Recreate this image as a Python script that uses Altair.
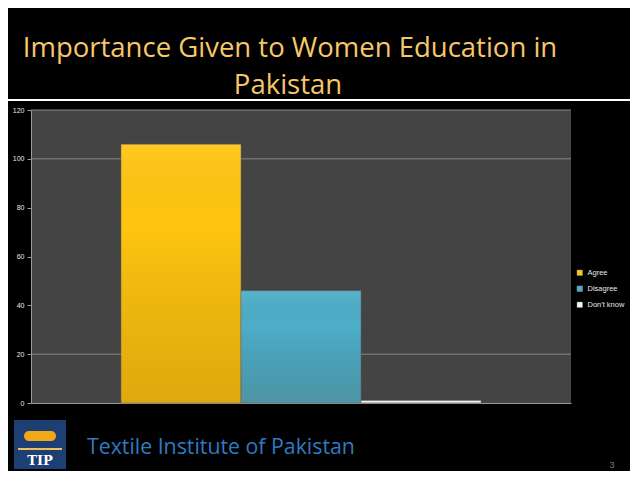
import altair as alt
import pandas as pd

categories = ["Agree", "Disagree", "Don't know"]
values = [106, 46, 1]
colors = ["#FFC510", "#4DADC8", "#F8F8F8"]
y_ticks = [0, 20, 40, 60, 80, 100, 120]
grid_values = [20, 100, 120]
title_lines = ["Importance Given to Women Education in", "Pakistan"]
footer_text = "Textile Institute of Pakistan"
page_number = "3"
logo_text = "TIP"

W, H = 540, 293
OX, OY = 31, 110  # page position of plot origin

df = pd.DataFrame({"cat": categories, "val": values})

y_scale = alt.Scale(domain=[0, 120], nice=False)
y_axis = alt.Axis(values=y_ticks, title=None, grid=False, labelColor="#e8e8e8",
                  labelFontSize=7, labelFont="Liberation Sans", tickColor="#9a9a9a",
                  tickSize=4, domainColor="#9a9a9a", labelPadding=3)
x_enc = alt.X("cat:N", sort=categories,
              scale=alt.Scale(paddingInner=0, paddingOuter=0.75),
              axis=alt.Axis(labels=False, ticks=False, title=None, domainColor="#9a9a9a"))

grid = alt.Chart(pd.DataFrame({"g": grid_values})).mark_rule(color="#8a8a8a", strokeWidth=1).encode(
    y=alt.Y("g:Q", scale=y_scale, axis=y_axis)
)

bars = alt.Chart(df).mark_bar(stroke="#5c5c5c", strokeWidth=0.5).encode(
    x=x_enc,
    y=alt.Y("val:Q", scale=y_scale, axis=y_axis),
    color=alt.Color("cat:N", sort=categories,
                    scale=alt.Scale(domain=categories, range=colors),
                    legend=alt.Legend(title=None, orient="none", legendX=545, legendY=159,
                                      labelColor="#e8e8e8", labelFontSize=7.5,
                                      labelFont="Liberation Sans", symbolType="square",
                                      symbolSize=30, rowPadding=7, symbolStrokeWidth=0.5,
                                      symbolStrokeColor="#888"))
)

shade = alt.Chart(df).mark_bar(
    color=alt.Gradient(gradient="linear", x1=0, y1=0, x2=0, y2=1,
                       stops=[alt.GradientStop(offset=0, color="rgba(255,255,255,0.08)"),
                              alt.GradientStop(offset=0.3, color="rgba(0,0,0,0)"),
                              alt.GradientStop(offset=1, color="rgba(90,40,0,0.18)")])
).encode(x=x_enc, y=alt.Y("val:Q", scale=y_scale, axis=y_axis))

def px(x):
    return x - OX

def py(y):
    return y - OY

title1 = alt.Chart(pd.DataFrame({"t": [title_lines[0]]})).mark_text(
    font="Open Sans", fontSize=27.5, color="#F7C76A", align="center", baseline="alphabetic"
).encode(text="t:N", x=alt.value(px(290)), y=alt.value(py(57)))

title2 = alt.Chart(pd.DataFrame({"t": [title_lines[1]]})).mark_text(
    font="Open Sans", fontSize=27.5, color="#F7C76A", align="center", baseline="alphabetic"
).encode(text="t:N", x=alt.value(px(288)), y=alt.value(py(94)))

header_line = alt.Chart(pd.DataFrame({"a": [0]})).mark_rule(color="#ffffff", strokeWidth=2).encode(
    x=alt.value(px(0)), x2=alt.value(px(640)), y=alt.value(py(100))
)

logo_box = alt.Chart(pd.DataFrame({"a": [0]})).mark_rect(color="#1d3f73").encode(
    x=alt.value(px(14)), x2=alt.value(px(66)), y=alt.value(py(420)), y2=alt.value(py(469))
)
logo_band = alt.Chart(pd.DataFrame({"a": [0]})).mark_rect(color="#e8c060").encode(
    x=alt.value(px(18)), x2=alt.value(px(62)), y=alt.value(py(448)), y2=alt.value(py(450))
)
logo_wing = alt.Chart(pd.DataFrame({"a": [0]})).mark_rect(color="#f0a818", cornerRadius=5).encode(
    x=alt.value(px(24)), x2=alt.value(px(56)), y=alt.value(py(431)), y2=alt.value(py(441))
)
logo_label = alt.Chart(pd.DataFrame({"t": [logo_text]})).mark_text(
    font="DejaVu Serif", fontSize=13, fontWeight="bold", color="#ffffff", align="center",
    baseline="alphabetic"
).encode(text="t:N", x=alt.value(px(40)), y=alt.value(py(465)))

footer = alt.Chart(pd.DataFrame({"t": [footer_text]})).mark_text(
    font="Open Sans", fontSize=21.3, color="#2E7BC4", align="left", baseline="alphabetic"
).encode(text="t:N", x=alt.value(px(87)), y=alt.value(py(454)))

pagenum = alt.Chart(pd.DataFrame({"t": [page_number]})).mark_text(
    font="Liberation Sans", fontSize=9, color="#7a7a7a", align="center", baseline="alphabetic"
).encode(text="t:N", x=alt.value(px(612)), y=alt.value(py(468)))

chart = alt.layer(
    grid, bars, shade, header_line, title1, title2, logo_box, logo_band, logo_wing, logo_label,
    footer, pagenum
).properties(
    width=W, height=H,
    autosize=alt.AutoSizeParams(type="none"),
    padding={"left": OX - 8, "top": OY - 8, "right": 638 - 16 - (OX - 8) - W, "bottom": 479 - 16 - (OY - 8) - H},
    background="#000000",
).configure_view(fill="#444444", stroke=None)

chart.save("out.html", embed_options={"renderer": "svg", "actions": False})
